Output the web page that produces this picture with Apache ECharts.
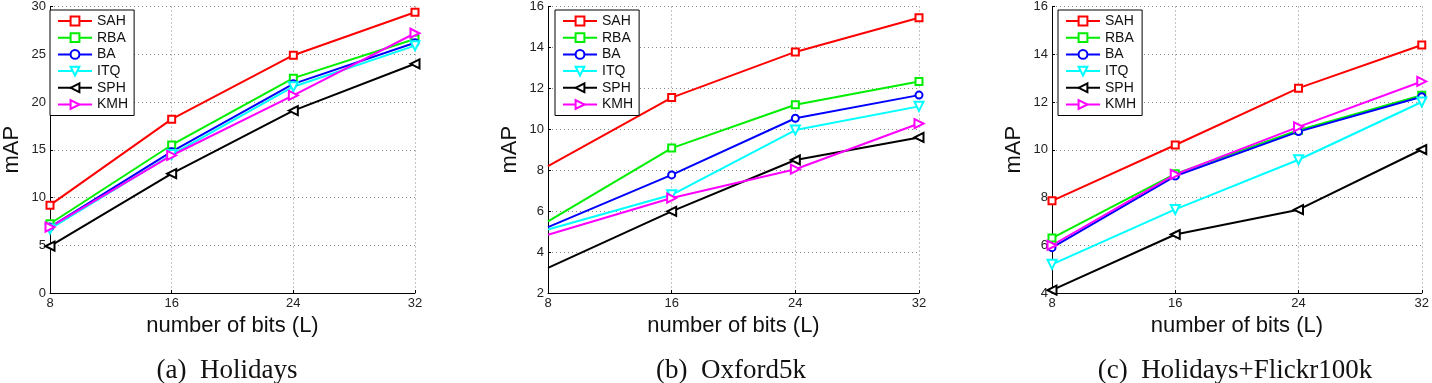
<!DOCTYPE html>
<html>
<head>
<meta charset="utf-8">
<script src="https://cdn.jsdelivr.net/npm/echarts@6/dist/echarts.min.js"></script>
<style>
  html, body { margin: 0; padding: 0; background: #fff; }
  #chart { width: 1432px; height: 383px; }
</style>
</head>
<body>
<div id="chart"></div>
<script>
const bits = [8, 16, 24, 32]
const methods = ['SAH', 'RBA', 'BA', 'ITQ', 'SPH', 'KMH']

// (a) Holidays
const holidays = {
  SAH: [9.2, 18.2, 24.9, 29.4],
  RBA: [7.25, 15.5, 22.5, 26.6],
  BA: [6.9, 14.8, 21.9, 26.2],
  ITQ: [6.7, 14.5, 21.6, 25.9],
  SPH: [4.9, 12.5, 19.1, 24.0],
  KMH: [6.9, 14.4, 20.7, 27.2]
}

// (b) Oxford5k
const oxford = {
  SAH: [8.2, 11.55, 13.78, 15.45],
  RBA: [5.5, 9.08, 11.2, 12.34],
  BA: [5.22, 7.77, 10.54, 11.67],
  ITQ: [5.1, 6.8, 9.96, 11.12],
  SPH: [3.23, 5.99, 8.5, 9.6],
  KMH: [4.85, 6.64, 8.05, 10.28]
}

// (c) Holidays+Flickr100k
const flickr = {
  SAH: [7.86, 10.2, 12.58, 14.39],
  RBA: [6.3, 8.99, 10.82, 12.28],
  BA: [5.9, 8.9, 10.76, 12.22],
  ITQ: [5.2, 7.5, 9.58, 12.0],
  SPH: [4.12, 6.45, 7.49, 10.01],
  KMH: [6.0, 8.97, 10.96, 12.86]
}

const captions = ['(a)  Holidays', '(b)  Oxford5k', '(c)  Holidays+Flickr100k']
const yRanges = [[0, 30, 5], [2, 16, 2], [4, 16, 2]]

const styles = {
  SAH: { color: '#ff0000', symbol: 'emptyRect', size: 7, rotate: 0 },
  RBA: { color: '#00ee00', symbol: 'emptyRect', size: 7, rotate: 0 },
  BA: { color: '#0000ff', symbol: 'emptyCircle', size: 7, rotate: 0 },
  ITQ: { color: '#00ffff', symbol: 'emptyTriangle', size: 9, rotate: 180 },
  SPH: { color: '#000000', symbol: 'emptyTriangle', size: 9, rotate: 90 },
  KMH: { color: '#ff00ff', symbol: 'emptyTriangle', size: 9, rotate: -90 }
}

const panels = [holidays, oxford, flickr]
const grids = [
  { left: 45, width: 370, top: 5, height: 288 },
  { left: 548, width: 371, top: 5, height: 288 },
  { left: 1052, width: 370, top: 5, height: 288 }
]
const legendLeft = [50, 555, 1058]
const captionX = [222, 726, 1230]

const font = 'Liberation Sans, Arial, sans-serif'
const gridLine = { show: true, lineStyle: { color: '#888', type: [1, 3], width: 1 } }

const xAxes = grids.map((g, i) => ({
  type: 'value', gridIndex: i, min: 8, max: 32, interval: 8,
  name: 'number of bits (L)', nameLocation: 'middle', nameGap: 18,
  nameTextStyle: { fontFamily: font, fontSize: 22, color: '#111' },
  axisLine: { lineStyle: { color: '#000', width: 1 } },
  axisTick: { inside: true, length: 3, lineStyle: { color: '#000' } },
  axisLabel: { fontFamily: font, fontSize: 13, color: '#222', margin: 4 },
  splitLine: gridLine
}))

const yAxes = grids.map((g, i) => ({
  type: 'value', gridIndex: i, min: yRanges[i][0], max: yRanges[i][1], interval: yRanges[i][2],
  name: 'mAP', nameLocation: 'middle', nameGap: 27,
  nameTextStyle: { fontFamily: font, fontSize: 22, color: '#111' },
  axisLine: { show: true, lineStyle: { color: '#000', width: 1 } },
  axisTick: { show: true, inside: true, length: 3, lineStyle: { color: '#000' } },
  axisLabel: { fontFamily: font, fontSize: 13, color: '#222', margin: 4 },
  splitLine: gridLine
}))

const series = []
panels.forEach((panel, p) => {
  methods.forEach((m) => {
    const st = styles[m]
    series.push({
      name: m, type: 'line', xAxisIndex: p, yAxisIndex: p,
      data: bits.map((b, k) => {
        const item = { value: [b, panel[m][k]] }
        // the Oxford5k plot shows no markers on the first column
        if (p === 1 && k === 0) item.symbol = 'none'
        return item
      }),
      symbol: st.symbol, symbolSize: st.size, symbolRotate: st.rotate,
      showAllSymbol: true, clip: false,
      lineStyle: { color: st.color, width: 2 },
      itemStyle: { color: st.color, borderColor: st.color, borderWidth: 1.5 },
      emphasis: { disabled: true },
      animation: false
    })
  })
})

const legends = legendLeft.map((l) => ({
  data: methods, orient: 'vertical', left: l, top: 10,
  padding: [4, 6, 4, 7], itemWidth: 34, itemHeight: 11, itemGap: 2.7,
  borderColor: '#000', borderWidth: 1, backgroundColor: '#fff',
  textStyle: { fontFamily: font, fontSize: 14, lineHeight: 14, color: '#111' },
  selectedMode: false
}))

const titles = captions.map((c, i) => ({
  text: c, left: captionX[i], top: 352, textAlign: 'center',
  textStyle: { fontFamily: 'Liberation Serif, Times New Roman, serif', fontSize: 27, fontWeight: 'normal', color: '#111' }
}))

const chart = echarts.init(document.getElementById('chart'))
chart.setOption({
  animation: false,
  title: titles,
  legend: legends,
  grid: grids,
  xAxis: xAxes,
  yAxis: yAxes,
  series: series
})
</script>
</body>
</html>
